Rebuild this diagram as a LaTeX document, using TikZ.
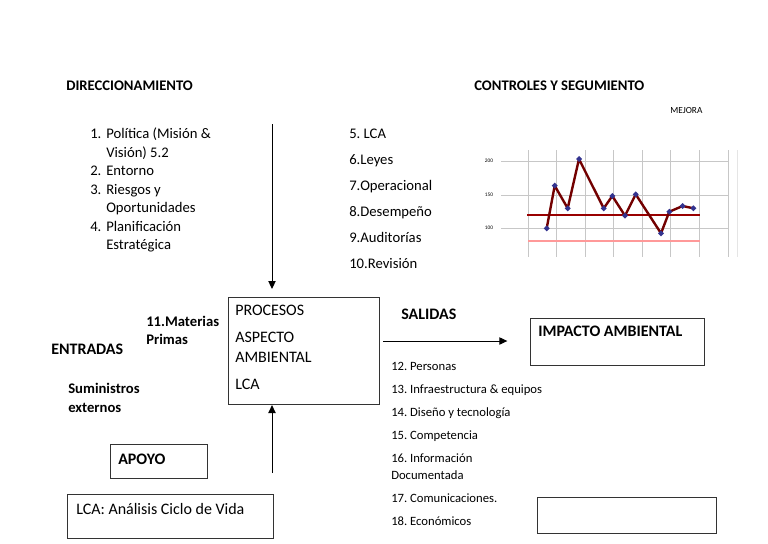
\documentclass[tikz,border=0pt]{standalone}
\usepackage{fontspec}
\setmainfont{Carlito}
\usetikzlibrary{arrows.meta,calc}
\frenchspacing

\begin{document}
\begin{tikzpicture}[
  x=0.75pt, y=-0.75pt,
  every node/.style={inner sep=0pt},
  head/.style={anchor=base west, font=\fontsize{11}{13.5}\selectfont\bfseries},
  bighead/.style={anchor=base west, font=\fontsize{12}{14.5}\selectfont\bfseries},
  txt/.style={anchor=base west, font=\fontsize{11}{13.9}\selectfont},
  bigtxt/.style={anchor=base west, font=\fontsize{12}{15}\selectfont},
  small/.style={anchor=base west, font=\fontsize{9.5}{12.75}\selectfont},
  box/.style={draw=black!80, line width=0.8pt, anchor=north west},
  arrow/.style={-{Triangle[length=6pt,width=5.5pt]}, line width=0.75pt},
  grid/.style={draw=black!22, line width=0.6pt},
  trend/.style={draw=red!45!black, line width=1.8pt, line join=round}
]

\useasboundingbox (0,0) rectangle (768,543);

% Headings
\node[head] (dir) at (66,90.7) {DIRECCIONAMIENTO};
\node[head] (ctrl) at (474,90.7) {CONTROLES Y SEGUMIENTO};
\node[anchor=base west, font=\fontsize{7}{8}\selectfont] (mejora) at (670,113) {MEJORA};

% Direccionamiento list
\node[txt] (dirlist) at (90,138.7) {\begin{tabular}[t]{@{}p{12pt}@{}l@{}}
1. & Política (Misión \&\\
   & Visión) 5.2\\
2. & Entorno\\
3. & Riesgos y\\
   & Oportunidades\\
4. & Planificación\\
   & Estratégica
\end{tabular}};

% Controles list
\node[anchor=base west, font=\fontsize{11}{19.5}\selectfont] (ctrllist) at (349,138.7) {\begin{tabular}[t]{@{}l@{}}
5. LCA\\ 6.Leyes\\ 7.Operacional\\ 8.Desempeño\\ 9.Auditorías\\ 10.Revisión
\end{tabular}};

% Control chart
\foreach \gy in {161,195,228}
  \draw[grid] (501,\gy) -- (728,\gy);
\foreach \gx in {528.3,556.7,585,613.3,642.3,670.7,699.3,728.3}
  \draw[grid] (\gx,150) -- (\gx,257);
\draw[grid, draw=black!10] (737,150) -- (737,257);
\foreach \v/\gy in {200/161,150/195,100/228}
  \node[font=\fontsize{4}{5}\selectfont] (lab\v) at (489,\gy) {\v};
\draw[draw=red!40, line width=1pt] (528,241) -- (700,241);
\draw[draw=red!60!black, line width=1.6pt] (527,215) -- (700,215);
\draw[trend] plot coordinates {(546.7,228.3) (554.7,185.7) (567.7,208.3) (579,159)
  (603.7,208.3) (612.3,196) (625,215.7) (635.7,194.3) (661,233.3) (669.3,211.7)
  (682.7,206) (693.3,208.3)};
\foreach \px/\py in {546.7/228.3,554.7/185.7,567.7/208.3,579/159,603.7/208.3,612.3/196,
  625/215.7,635.7/194.3,661/233.3,669.3/211.7,682.7/206,693.3/208.3}
  \fill[blue!45!black!80] (\px,\py) ++(0,-3) -- ++(3,3) -- ++(-3,3) -- ++(-3,-3) -- cycle;

% Procesos
\node[box, minimum width=113.25pt, minimum height=80.25pt] (proc) at (228,297) {};
\node[anchor=base west, font=\fontsize{12}{15}\selectfont] (proctext) at ($(proc.north west)+(7,18)$) {\begin{tabular}[t]{@{}l@{}}
PROCESOS\\[5.25pt] ASPECTO\\ AMBIENTAL\\[5.25pt] LCA
\end{tabular}};

% Entradas
\node[bighead] (entradas) at (51,354) {ENTRADAS};
\node[anchor=base west, font=\fontsize{11}{13.5}\selectfont\bfseries] (materias) at (146,326.7) {\begin{tabular}[t]{@{}l@{}}11.Materias\\ Primas\end{tabular}};
\node[anchor=base west, font=\fontsize{11}{14.25}\selectfont\bfseries] (sumin) at (68,393.7) {\begin{tabular}[t]{@{}l@{}}Suministros\\ externos\end{tabular}};

% Apoyo
\node[box, minimum width=72.75pt, minimum height=25.5pt] (apoyo) at (110,444) {};
\node[bighead] (apoyotext) at ($(apoyo.north west)+(8,20)$) {APOYO};
\node[box, minimum width=154.5pt, minimum height=33pt] (lcabox) at (67,494) {};
\node[bigtxt] (lcatext) at ($(lcabox.north west)+(9,20)$) {LCA: Análisis Ciclo de Vida};

% Salidas
\node[bighead] (salidas) at (401,319.5) {SALIDAS};
\node[box, minimum width=130.5pt, minimum height=35.25pt] (impact) at (530,318) {};
\node[bighead] (impacttext) at ($(impact.north west)+(8,18)$) {IMPACTO AMBIENTAL};
\node[small] (sallist) at (391,370) {\begin{tabular}[t]{@{}l@{}}
12. Personas\\[4.5pt]
13. Infraestructura \& equipos\\[4.5pt]
14. Diseño y tecnología\\[4.5pt]
15. Competencia\\[4.5pt]
16. Información\\
Documentada\\[4.5pt]
17. Comunicaciones.\\[4.5pt]
18. Económicos
\end{tabular}};
\node[box, minimum width=134.25pt, minimum height=27pt] (blank) at (537,497) {};

% Arrows
\coordinate (dirsrc) at (272,124);
\coordinate (aposrc) at (272,473);
\coordinate (salsrc) at (383,341);
\draw[arrow, shorten >=6pt] (dirsrc) -- (dirsrc |- proc.north);
\draw[arrow] (aposrc) -- (aposrc |- proc.south);
\draw[arrow, shorten >=17pt] (salsrc) -- (salsrc -| impact.west);

\end{tikzpicture}
\end{document}
